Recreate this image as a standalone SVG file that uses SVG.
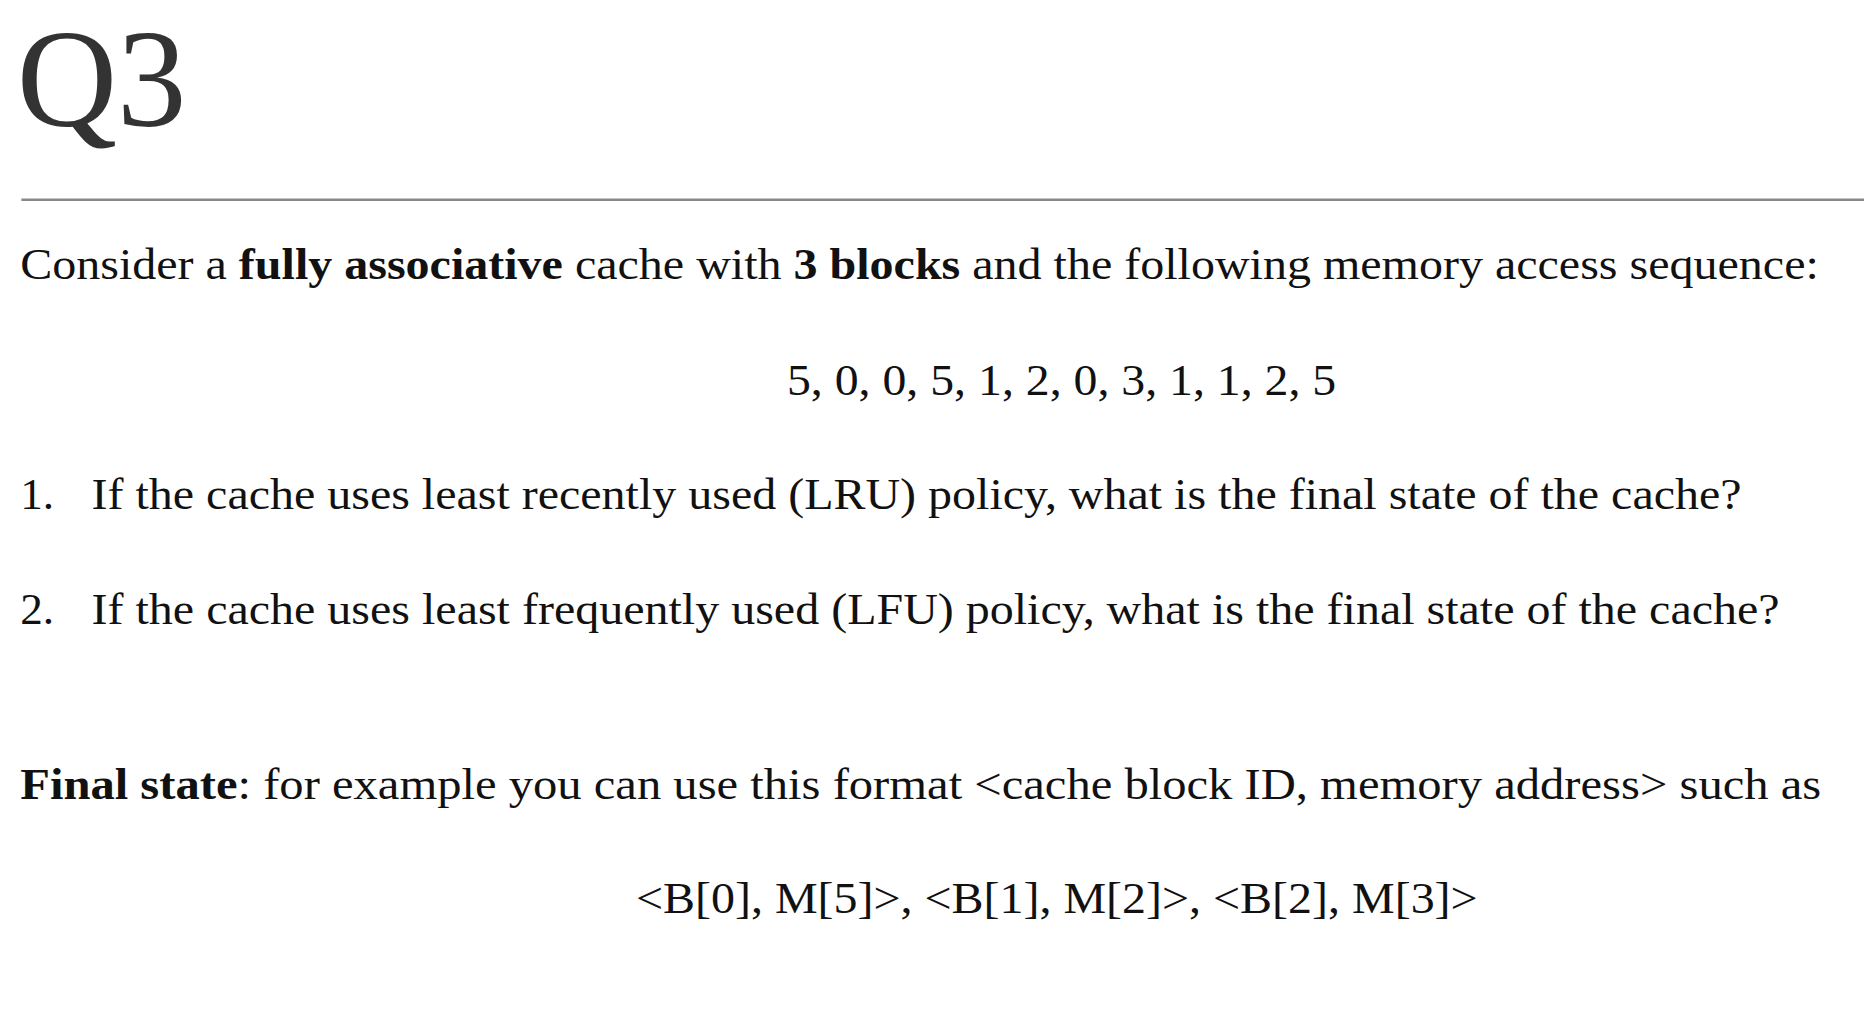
<svg xmlns="http://www.w3.org/2000/svg" width="1864" height="1016" viewBox="0 0 1864 1016">
<style>
text{font-family:"Liberation Serif","Times New Roman",serif;fill:#111;}
.b{font-weight:bold;}
.t{font-size:38px;}
</style>
<rect width="1864" height="1016" fill="#fff"/>
<g transform="scale(1.18878)">
<g id="title"><text x="14" y="106" style="font-size:117px;fill:#333">Q3</text></g>
<line x1="18" y1="168" x2="1568" y2="168" stroke="#888" stroke-width="2"/>
<g id="intro"><text class="t" x="17" y="235" textLength="1513" lengthAdjust="spacingAndGlyphs">Consider a <tspan class="b">fully associative</tspan> cache with <tspan class="b">3 blocks</tspan> and the following memory access sequence:</text></g>
<g id="seq"><text class="t" x="662" y="332" textLength="462" lengthAdjust="spacingAndGlyphs">5, 0, 0, 5, 1, 2, 0, 3, 1, 1, 2, 5</text></g>
<g id="q1"><text class="t" x="17" y="428">1.</text><text class="t" x="77" y="428" textLength="1388" lengthAdjust="spacingAndGlyphs">If the cache uses least recently used (LRU) policy, what is the final state of the cache?</text></g>
<g id="q2"><text class="t" x="17" y="525">2.</text><text class="t" x="77" y="525" textLength="1420" lengthAdjust="spacingAndGlyphs">If the cache uses least frequently used (LFU) policy, what is the final state of the cache?</text></g>
<g id="final"><text class="t" x="17" y="672" textLength="1515" lengthAdjust="spacingAndGlyphs"><tspan class="b">Final state</tspan>:  for example you can use this format &lt;cache block ID, memory address&gt;  such as</text></g>
<g id="example"><text class="t" x="535" y="768" textLength="708" lengthAdjust="spacingAndGlyphs">&lt;B[0], M[5]&gt;, &lt;B[1], M[2]&gt;, &lt;B[2], M[3]&gt;</text></g>
</g>
</svg>
